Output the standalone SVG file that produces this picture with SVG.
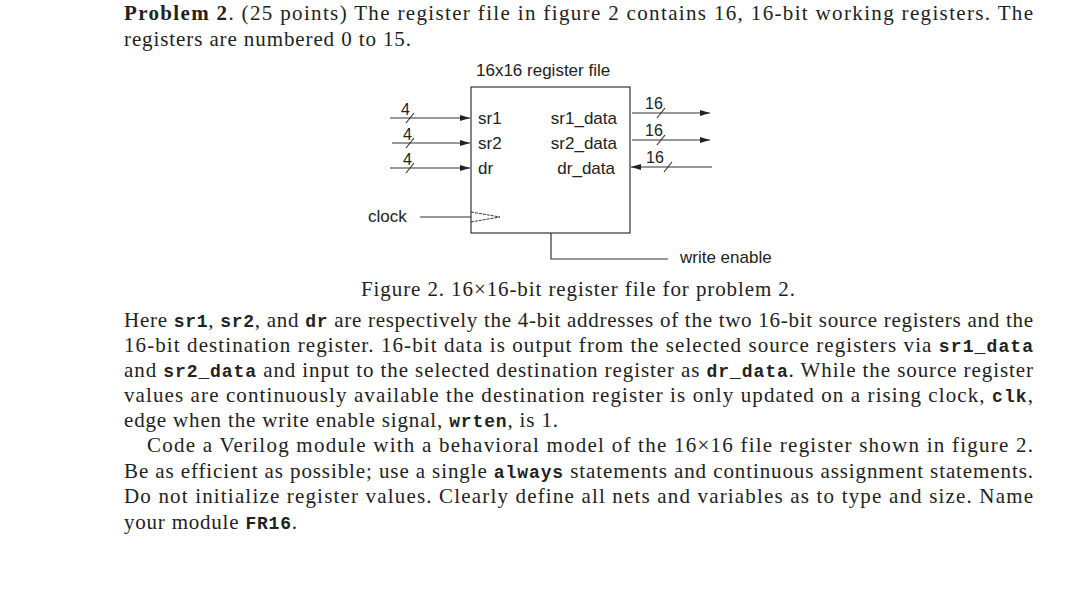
<svg xmlns="http://www.w3.org/2000/svg" width="1080" height="605" viewBox="0 0 1080 605">
<style>
.t{font-family:"Liberation Serif",serif;font-size:21px;fill:#222}
.m{font-family:"Liberation Mono",monospace;font-size:18px}
.b{font-weight:bold}
.s{font-family:"Liberation Sans",Arial,sans-serif;font-size:17px;fill:#222}
.w{font-family:"Liberation Sans",Arial,sans-serif;font-size:16px;fill:#222}
.l{stroke:#333;stroke-width:1.2;fill:none}
</style>
<defs><marker id="a" viewBox="0 0 10 6" refX="10" refY="3" markerWidth="10" markerHeight="6" orient="auto" markerUnits="userSpaceOnUse"><path d="M0,0L10,3L0,6z" fill="#222"/></marker></defs>
<rect width="1080" height="605" fill="#fff"/>
<text class="t" x="124" y="20" textLength="909" lengthAdjust="spacing"><tspan class="b">Problem 2</tspan>. (25 points) The register file in figure 2 contains 16, 16-bit working registers. The</text>
<text class="t" x="124" y="46" textLength="287" lengthAdjust="spacing">registers are numbered 0 to 15.</text>
<g id="regfile">
<rect x="471" y="87" width="159" height="146" fill="#fff" stroke="#333" stroke-width="1.2"/>
<text class="s" x="476" y="76">16x16 register file</text>
<text class="s" x="478" y="124">sr1</text>
<text class="s" x="478" y="149">sr2</text>
<text class="s" x="478" y="174">dr</text>
<text class="s" x="617" y="124" text-anchor="end">sr1_data</text>
<text class="s" x="617" y="149" text-anchor="end">sr2_data</text>
<text class="s" x="615" y="174" text-anchor="end">dr_data</text>
<path d="M471,212L500,217L471,222" fill="none" stroke="#333" stroke-width="1" stroke-dasharray="3,1"/>
</g>
<g id="connectors">
<line class="l" x1="390" y1="118" x2="470" y2="118" marker-end="url(#a)"/>
<line class="l" x1="392" y1="143" x2="470" y2="143" marker-end="url(#a)"/>
<line class="l" x1="390" y1="168" x2="470" y2="168" marker-end="url(#a)"/>
<line class="l" x1="632" y1="113" x2="710" y2="113" marker-end="url(#a)"/>
<line class="l" x1="632" y1="140" x2="710" y2="140" marker-end="url(#a)"/>
<line class="l" x1="712" y1="167" x2="631" y2="167" marker-end="url(#a)"/>
<line class="l" x1="420" y1="217" x2="471" y2="217"/>
<polyline class="l" points="551,233 551,259 668,259"/>
<g class="l"><line x1="414" y1="113" x2="406" y2="123"/><line x1="414" y1="138" x2="406" y2="148"/><line x1="414" y1="163" x2="406" y2="173"/>
<line x1="665" y1="108" x2="657" y2="118"/><line x1="665" y1="135" x2="657" y2="145"/><line x1="672" y1="162" x2="664" y2="172"/></g>
<text class="w" x="401" y="115">4</text><text class="w" x="403" y="140">4</text><text class="w" x="403" y="165">4</text>
<text class="w" x="645" y="109">16</text><text class="w" x="645" y="136">16</text><text class="w" x="646" y="163">16</text>
<text class="s" x="368" y="222">clock</text>
<text class="s" x="680" y="263">write enable</text>
</g>
<text class="t" x="361" y="296" textLength="434" lengthAdjust="spacing">Figure 2. 16×16-bit register file for problem 2.</text>
<text class="t" x="124" y="327" textLength="909" lengthAdjust="spacing">Here <tspan class="m b">sr1</tspan>, <tspan class="m b">sr2</tspan>, and <tspan class="m b">dr</tspan> are respectively the 4-bit addresses of the two 16-bit source registers and the</text>
<text class="t" x="124" y="352" textLength="909" lengthAdjust="spacing">16-bit destination register. 16-bit data is output from the selected source registers via <tspan class="m b">sr1_data</tspan></text>
<text class="t" x="124" y="377" textLength="909" lengthAdjust="spacing">and <tspan class="m b">sr2_data</tspan> and input to the selected destination register as <tspan class="m b">dr_data</tspan>. While the source register</text>
<text class="t" x="124" y="402" textLength="909" lengthAdjust="spacing">values are continuously available the destination register is only updated on a rising clock, <tspan class="m b">clk</tspan>,</text>
<text class="t" x="124" y="427" textLength="434" lengthAdjust="spacing">edge when the write enable signal, <tspan class="m b">wrten</tspan>, is 1.</text>
<text class="t" x="147" y="452" textLength="886" lengthAdjust="spacing">Code a Verilog module with a behavioral model of the 16×16 file register shown in figure 2.</text>
<text class="t" x="124" y="478" textLength="909" lengthAdjust="spacing">Be as efficient as possible; use a single <tspan class="m b">always</tspan> statements and continuous assignment statements.</text>
<text class="t" x="124" y="503" textLength="909" lengthAdjust="spacing">Do not initialize register values. Clearly define all nets and variables as to type and size. Name</text>
<text class="t" x="124" y="529" textLength="173" lengthAdjust="spacing">your module <tspan class="m b">FR16</tspan>.</text>
</svg>
